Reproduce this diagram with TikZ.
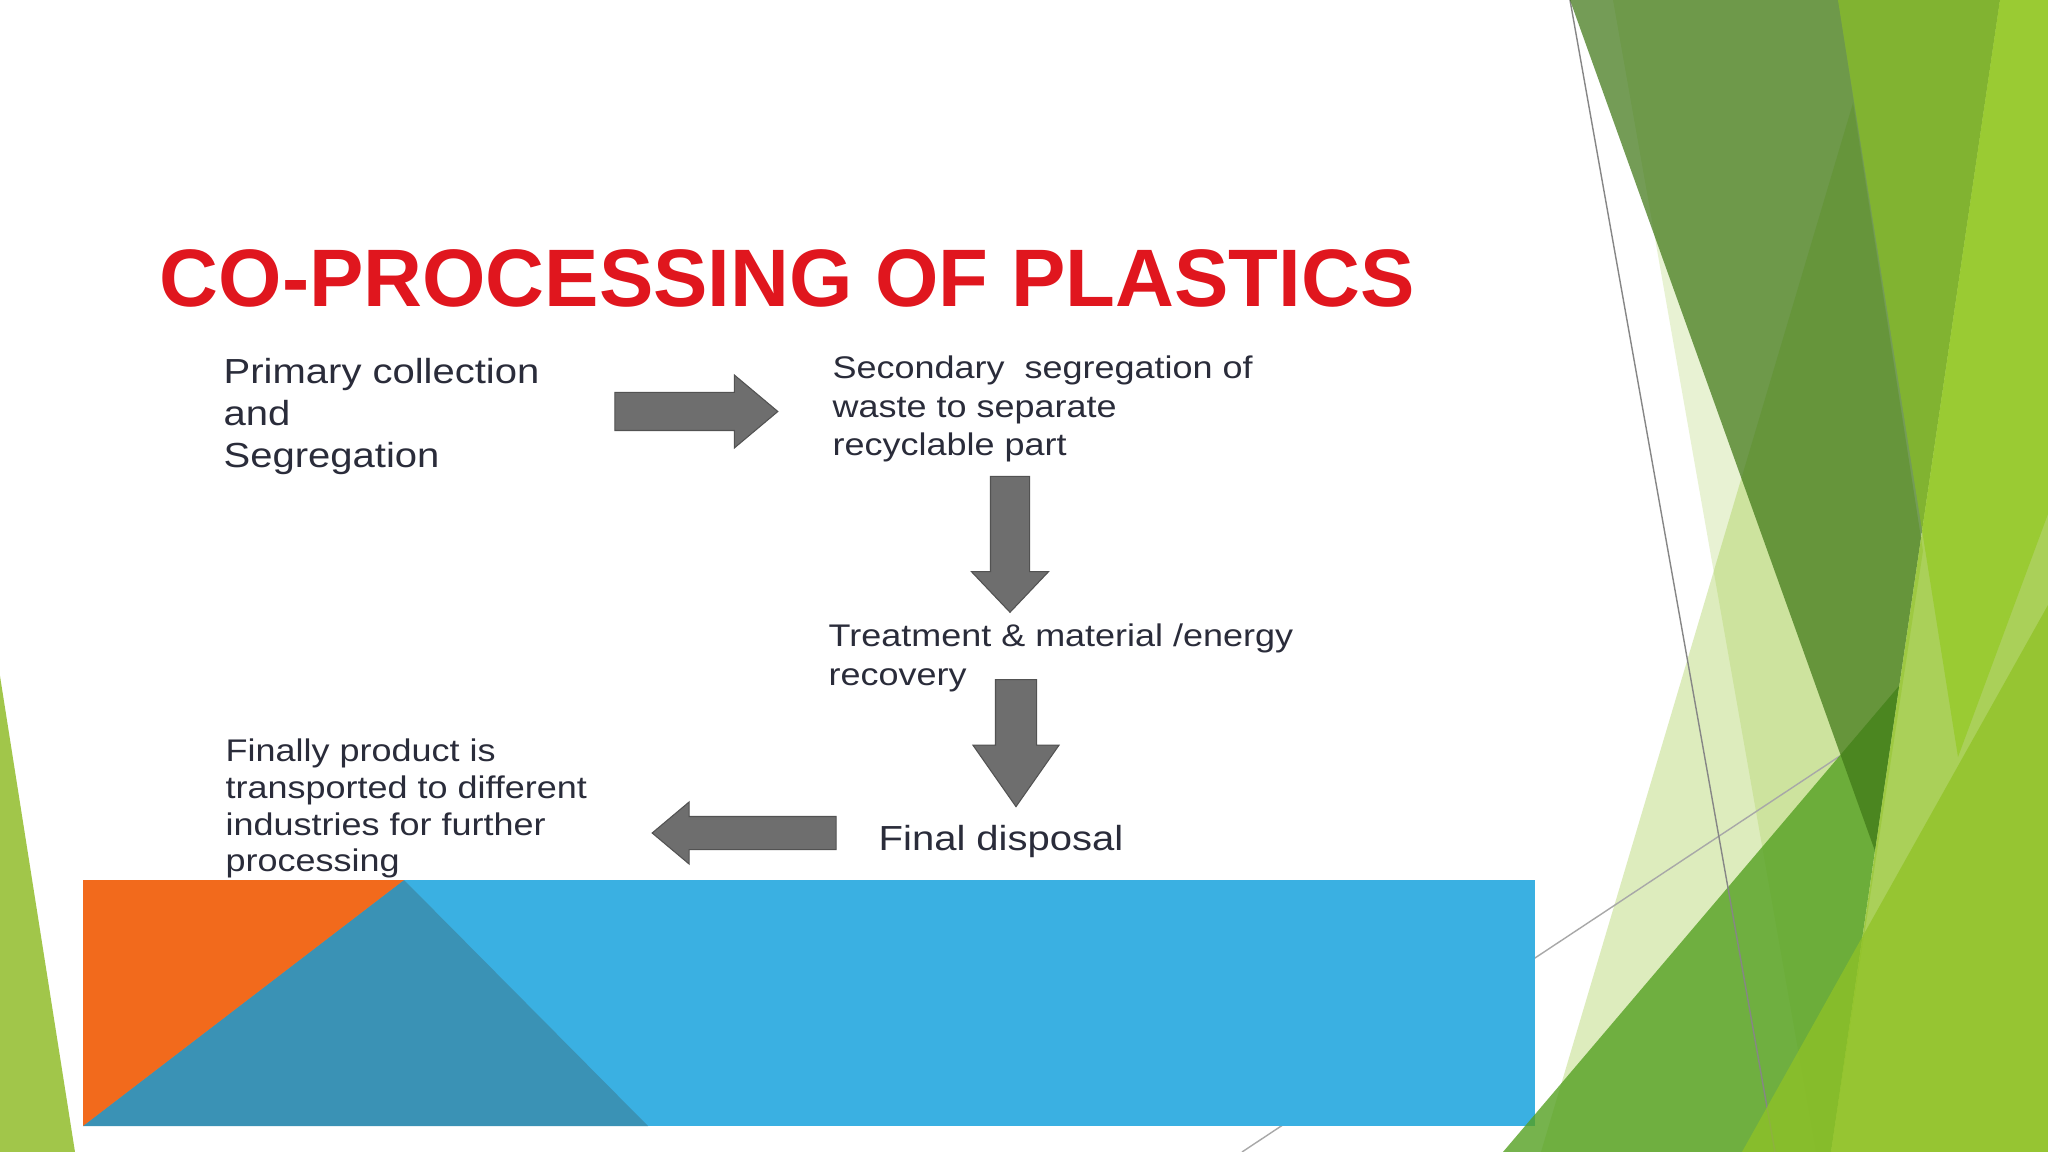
\documentclass[tikz,border=0pt]{standalone}
\usepackage{fontspec}
\setmainfont{Liberation Sans}
\newfontfamily\bodyfont[FakeStretch=1.15]{Liberation Sans}
\usepackage{tikz}
\usetikzlibrary{shapes.arrows}
\definecolor{cTitle}{HTML}{E0161E}
\definecolor{cText}{HTML}{2A2C3A}
\definecolor{cArrow}{HTML}{6E6E6E}
\definecolor{cOrange}{HTML}{F26A1C}
\definecolor{cSky}{HTML}{3AB0E2}
\definecolor{cTeal}{HTML}{3A92B5}
\definecolor{cLime}{HTML}{90C226}
\definecolor{cLeaf}{HTML}{54A021}
\definecolor{cMoss}{HTML}{3F7716}
\definecolor{cSprout}{HTML}{8DC714}
\definecolor{cSliver}{HTML}{A1C64A}
\definecolor{cRule}{HTML}{A8A8A8}

\begin{document}
\begin{tikzpicture}[
  stepbig/.style={font=\bodyfont\fontsize{9.9pt}{11.9pt}\selectfont, text=cText, align=left, anchor=base west, inner sep=0},
  stepsmall/.style={stepbig, font=\bodyfont\fontsize{8.9pt}{11pt}\selectfont},
  blockarrow/.style={single arrow, fill=cArrow, draw=cArrow!75!black, line width=0.3pt, inner sep=0, text depth=0pt}
]
\useasboundingbox (0,0) rectangle (20.48,-11.52);
\fill[white] (0,0) rectangle (20.48,-11.52);

\fill[cSliver] (0,-6.76) -- (0.75,-11.52) -- (0,-11.52) -- cycle;

\fill[cLime, opacity=.2] (16.13,0) -- (18.38,0) -- (19.23,-5.51) -- (18.31,-11.52) -- (18.16,-11.52) -- cycle;
\fill[cLime, opacity=.3] (18.53,-1.03) -- (15.41,-11.52) -- (18.31,-11.52) -- (19.23,-5.51) -- cycle;
\draw[cRule, line width=0.4pt] (12.42,-11.52) -- (18.40,-7.56);

\fill[cSky] (0.83,-8.80) rectangle (15.35,-11.26);
\fill[cTeal] (4.04,-8.80) -- (0.83,-11.26) -- (6.48,-11.26) -- cycle;
\fill[cOrange] (0.83,-8.80) -- (4.04,-8.80) -- (0.83,-11.26) -- cycle;

\fill[cLeaf, opacity=.8] (15.03,-11.52) -- (18.99,-6.86) -- (18.31,-11.52) -- cycle;
\draw[cRule!80!black, line width=0.4pt] (15.70,0) -- (17.75,-11.52);
\fill[cMoss, opacity=.72] (15.70,0) -- (20.00,0) -- (18.75,-8.51) -- cycle;
\fill[cLime, opacity=.76] (20.00,0) -- (20.48,0) -- (20.48,-11.52) -- (18.31,-11.52) -- cycle;
\fill[cSprout, opacity=.55] (18.38,0) -- (20.48,0) -- (20.48,-5.14) -- (19.58,-7.57) -- cycle;
\fill[cLime, opacity=.75] (17.42,-11.52) -- (20.48,-6.05) -- (20.48,-11.52) -- cycle;

\node[font=\fontsize{23.2pt}{28pt}\selectfont\bfseries, text=cTitle, anchor=base west, inner sep=0] (title) at (1.59,-3.07) {CO-PROCESSING OF PLASTICS};

\node[stepbig] (prim) at (2.23,-4.67) {Primary collection\\and\\Segregation};
\node[stepsmall] (sec) at (8.32,-4.56) {Secondary\ \ segregation of\\waste to separate\\recyclable part};
\node[stepsmall] (treat) at (8.28,-6.85) {Treatment \& material /energy\\recovery};
\node[stepbig] (disp) at (8.78,-8.50) {Final disposal};
\node[stepsmall, font=\bodyfont\fontsize{8.9pt}{10.45pt}\selectfont] (prod) at (2.25,-8.72) {Finally product is\\transported to different\\industries for further\\processing};

\node[blockarrow, text height=0.37cm, minimum height=1.63cm, single arrow head extend=0.175cm, single arrow tip angle=80] (a1) at (6.85,-4.115) {};
\node[blockarrow, rotate=-90, text height=0.38cm, minimum height=1.36cm, single arrow head extend=0.19cm, single arrow tip angle=87] (a2) at (10.10,-5.34) {};
\node[blockarrow, rotate=-90, text height=0.40cm, minimum height=1.27cm, single arrow head extend=0.225cm, single arrow tip angle=70] (a3) at (10.16,-7.285) {};
\node[blockarrow, rotate=180, text height=0.32cm, minimum height=1.84cm, single arrow head extend=0.145cm, single arrow tip angle=80] (a4) at (7.54,-8.33) {};
\end{tikzpicture}
\end{document}
